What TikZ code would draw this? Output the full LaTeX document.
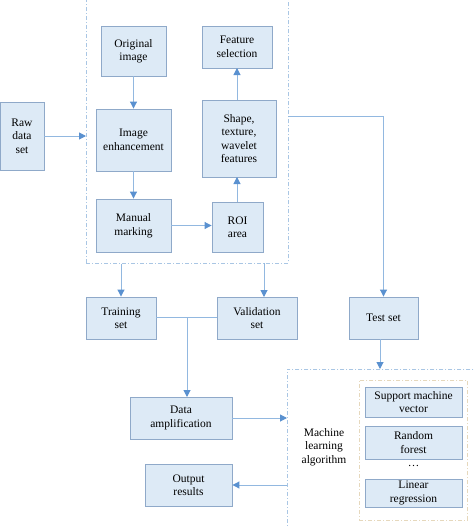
\documentclass[tikz,border=0pt]{standalone}
\usepackage{fontspec}
\setmainfont{Liberation Serif}
\usetikzlibrary{arrows.meta,positioning}
\definecolor{boxfill}{HTML}{DDEAF6}
\definecolor{boxline}{HTML}{8FA9C9}
\definecolor{conn}{HTML}{92B8E0}
\definecolor{tip}{HTML}{5A91D0}
\definecolor{dashblue}{HTML}{A9C6E4}
\definecolor{dashbeige}{HTML}{E6D8BC}
\begin{document}
\begin{tikzpicture}[x=1pt,y=-1pt,
  font=\fontsize{11.5}{13.5}\selectfont,
  box/.style={draw=boxline,fill=boxfill,line width=0.9pt,align=center,inner sep=1pt},
  conn/.style={draw=conn,line width=1pt},
  arr/.style={conn,-{Triangle[length=7pt,width=7pt,color=tip]}},
  dashbox/.style={draw=dashblue,line width=0.8pt,dash pattern=on 4pt off 2pt on 1pt off 2pt,inner sep=0pt},
  innerbox/.style={draw=dashbeige,line width=0.8pt,dash pattern=on 4pt off 2pt on 1pt off 2pt,inner sep=0pt}]
\useasboundingbox[fill=white] (0,0) rectangle (474,528);
% dashed containers
\node[dashbox,minimum width=202pt,minimum height=268pt,anchor=north west] (topbox) at (86,-5) {};
\node[dashbox,minimum width=200pt,minimum height=170pt,anchor=north west] (mlbox) at (287,369) {};
\node[innerbox,minimum width=108pt,minimum height=140pt,anchor=north west] (inner) at (359,380) {};
% boxes
\node[box,minimum width=65pt,minimum height=50pt] (orig) at (133.5,51) {Original\\image};
\node[box,minimum width=75pt,minimum height=62pt] (enh) at (133.5,140) {Image\\enhancement};
\node[box,minimum width=75pt,minimum height=53pt] (man) at (133.5,225.5) {Manual\\marking};
\node[box,minimum width=44pt,minimum height=68pt] (raw) at (22,136) {Raw\\data\\set};
\node[box,minimum width=70pt,minimum height=42pt] (feat) at (237,47) {Feature\\selection};
\node[box,minimum width=74pt,minimum height=77pt] (shape) at (239,138.5) {Shape,\\texture,\\wavelet\\features};
\node[box,minimum width=51pt,minimum height=50pt] (roi) at (237.5,227) {ROI\\area};
\node[box,minimum width=70pt,minimum height=42pt] (train) at (121,318) {Training\\set};
\node[box,minimum width=80pt,minimum height=42pt] (valid) at (257,318) {Validation\\set};
\node[box,minimum width=69pt,minimum height=42pt] (test) at (383.5,318) {Test set};
\node[box,minimum width=102pt,minimum height=42pt] (amp) at (181,418) {Data\\amplification};
\node[box,minimum width=87pt,minimum height=42pt] (out) at (188.5,485) {Output\\results};
\node[box,minimum width=97pt,minimum height=30pt] (svm) at (413.5,402) {Support machine\\vector};
\node[box,minimum width=97pt,minimum height=33pt] (rf) at (413.5,442.5) {Random\\forest};
\node (dots) at (413.5,466) {\dots};
\node[box,minimum width=97pt,minimum height=28pt] (lr) at (413.5,493) {Linear\\regression};
\node[align=center] (ml) at (324,447) {Machine\\learning\\algorithm};
% coordinates
\coordinate (rawin) at (raw.east -| topbox.west);
\coordinate (topout) at (288,116);
\coordinate (testcorner) at (test.north |- topout);
\coordinate (trainsrc) at (train.north |- topbox.south);
\coordinate (validsrc) at (264,263);
\coordinate (validdst) at (264,297);
\coordinate (branch) at (187,317);
\coordinate (ampdst) at (187,397);
\coordinate (testsrc) at (380,339);
\coordinate (testdst) at (380,369);
\coordinate (ampdst2) at (amp.east -| mlbox.west);
\coordinate (outsrc) at (out.east -| mlbox.west);
\coordinate (roiup) at (237,202);
\coordinate (shapebot) at (237,177);
\coordinate (shapetop) at (237,100);
\coordinate (featbot) at (237,68);
% connectors
\draw[arr] (raw.east) -- (rawin);
\draw[arr] (orig.south) -- (enh.north);
\draw[arr] (enh.south) -- (man.north);
\draw[arr] (man.east) -- (man.east -| roi.west);
\draw[arr] (roiup) -- (shapebot);
\draw[arr] (shapetop) -- (featbot);
\draw[arr] (topout) -- (testcorner) -- (test.north);
\draw[arr] (trainsrc) -- (train.north);
\draw[arr] (validsrc) -- (validdst);
\draw[conn] (train.east |- branch) -- (valid.west |- branch);
\draw[arr] (branch) -- (ampdst);
\draw[arr] (testsrc) -- (testdst);
\draw[arr] (amp.east) -- (ampdst2);
\draw[arr] (outsrc) -- (out.east);
\end{tikzpicture}
\end{document}
